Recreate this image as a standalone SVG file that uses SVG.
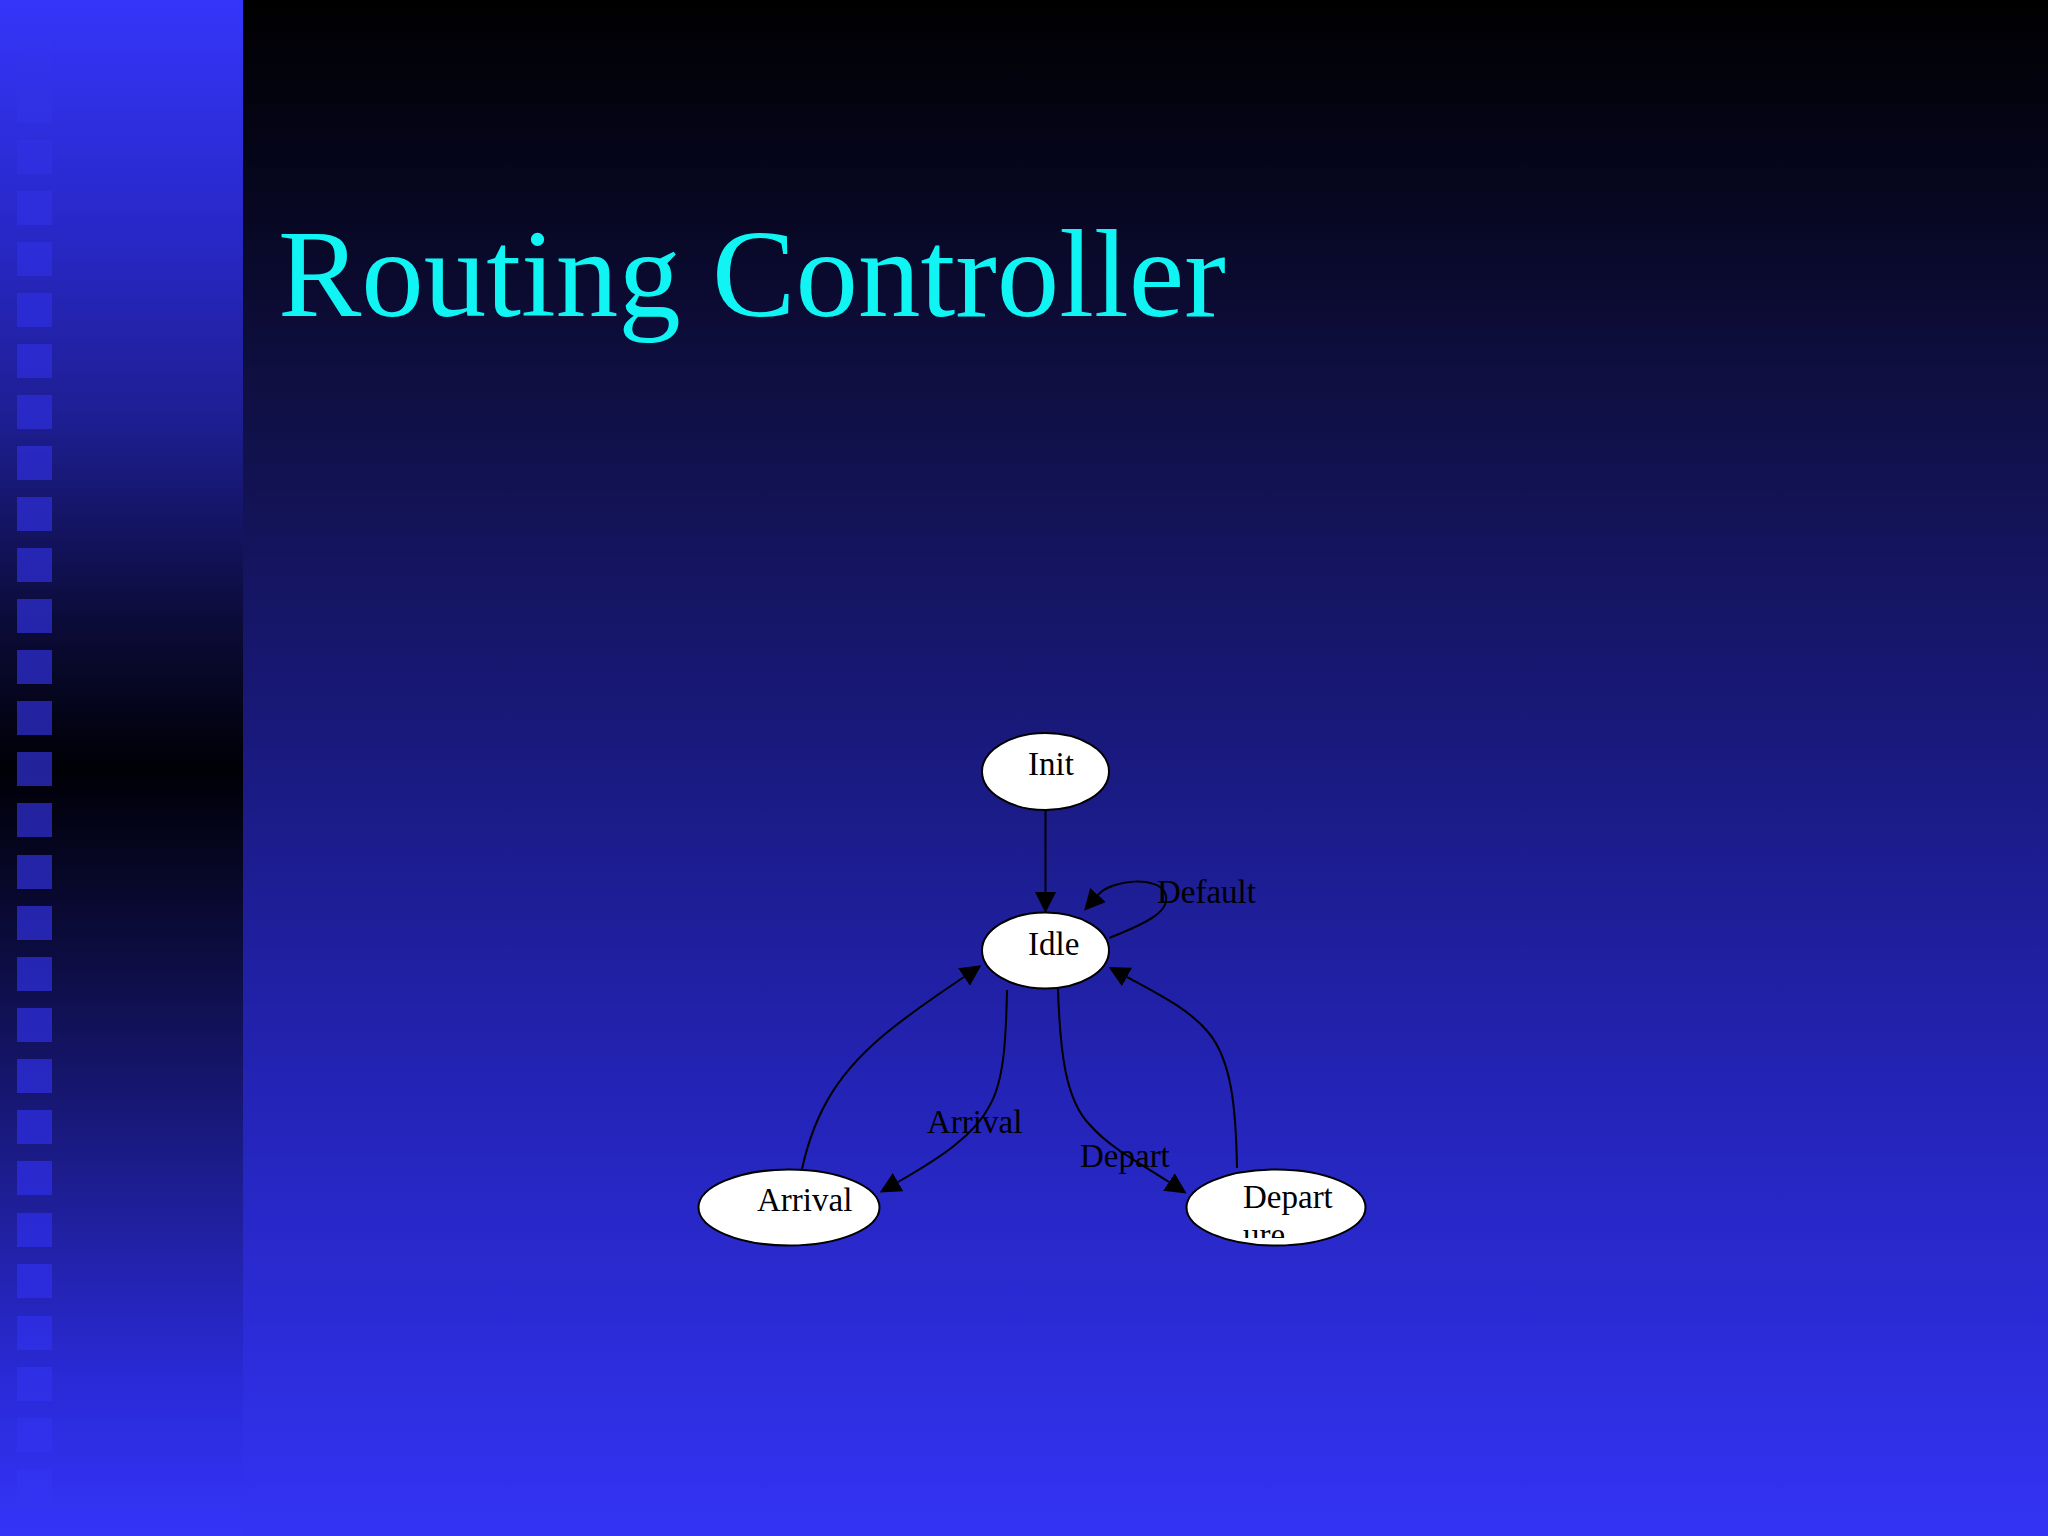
<svg xmlns="http://www.w3.org/2000/svg" width="2048" height="1536" viewBox="0 0 2048 1536">
<defs>
<linearGradient id="mainBg" x1="0" y1="0" x2="0" y2="1536" gradientUnits="userSpaceOnUse">
<stop offset="0" stop-color="#000000"/>
<stop offset="0.12" stop-color="#06061e"/>
<stop offset="0.25" stop-color="#0f0f42"/>
<stop offset="0.48" stop-color="#19197c"/>
<stop offset="0.7" stop-color="#2323b4"/>
<stop offset="1" stop-color="#3333f5"/>
</linearGradient>
<linearGradient id="stripBg" x1="0" y1="0" x2="0" y2="1536" gradientUnits="userSpaceOnUse">
<stop offset="0" stop-color="#3535fa"/>
<stop offset="0.15" stop-color="#2828c8"/>
<stop offset="0.27" stop-color="#1e1e94"/>
<stop offset="0.4" stop-color="#0c0c3c"/>
<stop offset="0.5" stop-color="#000006"/>
<stop offset="0.62" stop-color="#0c0c40"/>
<stop offset="0.78" stop-color="#1e1e96"/>
<stop offset="0.9" stop-color="#2a2ad8"/>
<stop offset="1" stop-color="#3434f8"/>
</linearGradient>
<linearGradient id="sqFill" x1="0" y1="0" x2="0" y2="1536" gradientUnits="userSpaceOnUse">
<stop offset="0" stop-color="#3535fa"/>
<stop offset="0.06" stop-color="#3131e6"/>
<stop offset="0.2" stop-color="#2b2bd4"/>
<stop offset="0.5" stop-color="#22229a"/>
<stop offset="0.8" stop-color="#2a2ad6"/>
<stop offset="0.94" stop-color="#3131ec"/>
<stop offset="1" stop-color="#3434f8"/>
</linearGradient>
<clipPath id="clipDepart"><rect x="1190" y="1170" width="170" height="68"/></clipPath>
<marker id="arrow" viewBox="0 0 10 10" refX="0" refY="5" markerWidth="21" markerHeight="22" markerUnits="userSpaceOnUse" orient="auto">
<path d="M0,0 L10,5 L0,10 z" fill="#000"/>
</marker>
<style>
.node ellipse { fill: #ffffff; stroke: #000000; stroke-width: 2; }
.node text, .lbl { font-family: "Liberation Serif", "Times New Roman", serif; font-size: 33px; fill: #000000; }
.edge { fill: none; stroke: #000000; stroke-width: 2; marker-end: url(#arrow); }
.sq { fill: url(#sqFill); }
</style>
</defs>
<g id="background">
<rect x="0" y="0" width="2048" height="1536" fill="url(#mainBg)"/>
<rect x="0" y="0" width="243" height="1536" fill="url(#stripBg)"/>
<g id="squares">
<rect class="sq" x="17" y="38" width="35" height="34"/>
<rect class="sq" x="17" y="89" width="35" height="34"/>
<rect class="sq" x="17" y="140" width="35" height="34"/>
<rect class="sq" x="17" y="191" width="35" height="34"/>
<rect class="sq" x="17" y="242" width="35" height="34"/>
<rect class="sq" x="17" y="293" width="35" height="34"/>
<rect class="sq" x="17" y="344" width="35" height="34"/>
<rect class="sq" x="17" y="395" width="35" height="34"/>
<rect class="sq" x="17" y="446" width="35" height="34"/>
<rect class="sq" x="17" y="497" width="35" height="34"/>
<rect class="sq" x="17" y="548" width="35" height="34"/>
<rect class="sq" x="17" y="599" width="35" height="34"/>
<rect class="sq" x="17" y="650" width="35" height="34"/>
<rect class="sq" x="17" y="701" width="35" height="34"/>
<rect class="sq" x="17" y="752" width="35" height="34"/>
<rect class="sq" x="17" y="803" width="35" height="34"/>
<rect class="sq" x="17" y="855" width="35" height="34"/>
<rect class="sq" x="17" y="906" width="35" height="34"/>
<rect class="sq" x="17" y="957" width="35" height="34"/>
<rect class="sq" x="17" y="1008" width="35" height="34"/>
<rect class="sq" x="17" y="1059" width="35" height="34"/>
<rect class="sq" x="17" y="1110" width="35" height="34"/>
<rect class="sq" x="17" y="1161" width="35" height="34"/>
<rect class="sq" x="17" y="1213" width="35" height="34"/>
<rect class="sq" x="17" y="1264" width="35" height="34"/>
<rect class="sq" x="17" y="1316" width="35" height="34"/>
<rect class="sq" x="17" y="1367" width="35" height="34"/>
<rect class="sq" x="17" y="1418" width="35" height="34"/>
<rect class="sq" x="17" y="1469" width="35" height="34"/>
</g>
</g>
<text id="title" x="278" y="316" font-family="'Liberation Serif', 'Times New Roman', serif" font-size="125" fill="#11f4f4">Routing Controller</text>
<g id="connectors">
<path class="edge" d="M1045.5,810 L1045.5,892"/>
<path class="edge" d="M1109,938 C1150,922 1172,910 1165,893 C1158,876 1112,879 1098,895"/>
<path class="edge" d="M802,1169 C815,1110 840,1070 890,1030 C920,1006 945,990 964,977"/>
<path class="edge" d="M1007,990 C1006,1040 1004,1080 990,1105 C975,1135 940,1158 898,1182"/>
<path class="edge" d="M1058,989 C1060,1050 1065,1100 1090,1125 C1110,1148 1140,1163 1169,1182"/>
<path class="edge" d="M1237,1168 C1236,1110 1232,1060 1208,1032 C1190,1010 1160,995 1127,977"/>
<text class="lbl" x="1157" y="903">Default</text>
<text class="lbl" x="927" y="1133">Arrival</text>
<text class="lbl" x="1080" y="1167">Depart</text>
</g>
<g id="node-init" class="node">
<ellipse cx="1045.5" cy="771.5" rx="63.5" ry="38.5"/>
<text x="1028" y="775">Init</text>
</g>
<g id="node-idle" class="node">
<ellipse cx="1045.5" cy="950.5" rx="63.5" ry="38"/>
<text x="1028" y="955">Idle</text>
</g>
<g id="node-arrival" class="node">
<ellipse cx="789" cy="1207.5" rx="90.5" ry="38"/>
<text x="757" y="1211">Arrival</text>
</g>
<g id="node-departure" class="node">
<ellipse cx="1276" cy="1207.5" rx="89.5" ry="38"/>
<text x="1243" y="1208">Depart</text>
<text x="1243" y="1246" clip-path="url(#clipDepart)">ure</text>
</g>
</svg>
